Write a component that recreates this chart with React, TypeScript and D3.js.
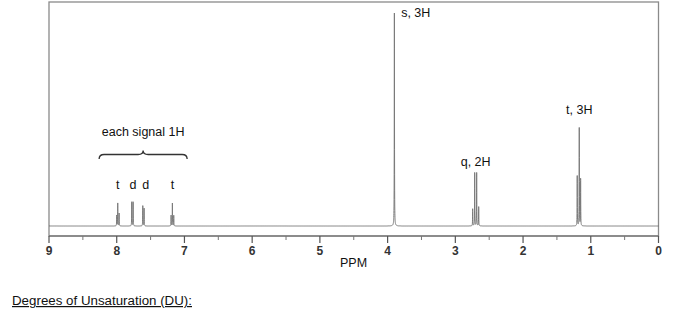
import React from "react";
import * as d3 from "d3";

// ---- data ----
// individual spectral lines (ppm, relative intensity)
const linePpm = [
  8.0, 7.985, 7.965,
  7.778, 7.758,
  7.615, 7.596,
  7.197, 7.178, 7.158,
  3.9,
  2.744, 2.714, 2.685, 2.655,
  1.2, 1.17, 1.15,
];
const lineHeight = [
  0.05, 0.107, 0.06,
  0.113, 0.113,
  0.095, 0.083,
  0.05, 0.107, 0.05,
  1.0,
  0.08, 0.25, 0.25, 0.09,
  0.235, 0.46, 0.22,
];

const labelText = ["s, 3H", "q, 2H", "t, 3H", "t", "d", "d", "t", "each signal 1H"];
const labelPpm = [3.8, 2.7, 1.17, 7.985, 7.76, 7.57, 7.175, 7.61];
const labelLevel = [0.981, 0.282, 0.526, 0.172, 0.172, 0.172, 0.172, 0.4225];
const labelAnchor = ["start", "middle", "middle", "middle", "middle", "middle", "middle", "middle"];

const majorTicks = [9, 8, 7, 6, 5, 4, 3, 2, 1, 0];
const minorTicks = [8.5, 7.5, 6.5, 5.5, 4.5, 3.5, 2.5, 1.5, 0.5];
const braceRange = [8.26, 6.96];
const axisTitle = "PPM";
const footerText = "Degrees of Unsaturation (DU):";

const W = 686;
const H = 335;

export default function App() {
  const x = d3.scaleLinear().domain([9, 0]).range([49, 658.5]);
  const y = d3.scaleLinear().domain([0, 1]).range([226, 13]);
  const hw = 0.0018; // lorentzian half width (ppm)

  const xs: number[] = [];
  for (let p = 9; p >= 0; p -= 0.0008) xs.push(p);
  linePpm.forEach((p) => xs.push(p));
  xs.sort((a, b) => b - a);
  const pts: [number, number][] = xs.map((p) => {
    let s = 0;
    for (let i = 0; i < linePpm.length; i++) {
      const d = (p - linePpm[i]) / hw;
      s += lineHeight[i] / (1 + d * d);
    }
    return [p, s];
  });
  const line = d3
    .line<[number, number]>()
    .x((d) => x(d[0]))
    .y((d) => y(d[1]));

  const bx0 = x(braceRange[0]);
  const bx1 = x(braceRange[1]);
  const bm = (bx0 + bx1) / 2;
  const by = 154.5;
  const brace = `M${bx0},${by + 4.5} Q${bx0},${by} ${bx0 + 5},${by} L${bm - 5},${by} Q${bm},${by} ${bm},${by - 4} Q${bm},${by} ${bm + 5},${by} L${bx1 - 5},${by} Q${bx1},${by} ${bx1},${by + 4.5}`;

  const axisY = 236;
  const font = "Arial, 'Liberation Sans', Helvetica, sans-serif";

  return (
    <svg
      width={W}
      height={H}
      style={{ position: "absolute", left: 0, top: 0, background: "#fff" }}
    >
      {/* frame */}
      <rect x={49} y={2} width={609.5} height={axisY - 2} fill="none" stroke="#8a8a8a" strokeWidth={1.3} />
      {/* spectrum */}
      <path d={line(pts) || ""} fill="none" stroke="#7a7a7a" strokeWidth={1} />
      {/* axis */}
      <line x1={49} x2={658.5} y1={axisY} y2={axisY} stroke="#666" strokeWidth={1.2} />
      {majorTicks.map((t) => (
        <g key={"M" + t}>
          <line x1={x(t)} x2={x(t)} y1={axisY} y2={axisY + 7} stroke="#555" strokeWidth={1.2} />
          <text
            x={x(t)}
            y={255}
            textAnchor="middle"
            fontFamily={font}
            fontSize={12}
            fontWeight="bold"
            fill="#333"
          >
            {t}
          </text>
        </g>
      ))}
      {minorTicks.map((t) => (
        <line key={"m" + t} x1={x(t)} x2={x(t)} y1={axisY} y2={axisY + 4} stroke="#777" strokeWidth={1} />
      ))}
      <text x={353.5} y={267} textAnchor="middle" fontFamily={font} fontSize={12.5} fill="#111">
        {axisTitle}
      </text>
      {/* brace */}
      <path d={brace} fill="none" stroke="#333" strokeWidth={1.3} />
      {/* labels */}
      {labelText.map((t, i) => (
        <text
          key={i}
          x={x(labelPpm[i])}
          y={y(labelLevel[i])}
          textAnchor={labelAnchor[i]}
          fontFamily={font}
          fontSize={12.5}
          fill="#111"
        >
          {t}
        </text>
      ))}
      <text
        x={12}
        y={305}
        fontFamily={font}
        fontSize={12}
        textDecoration="underline"
        textLength={180}
        lengthAdjust="spacingAndGlyphs"
        fill="#111"
      >
        {footerText}
      </text>
    </svg>
  );
}
